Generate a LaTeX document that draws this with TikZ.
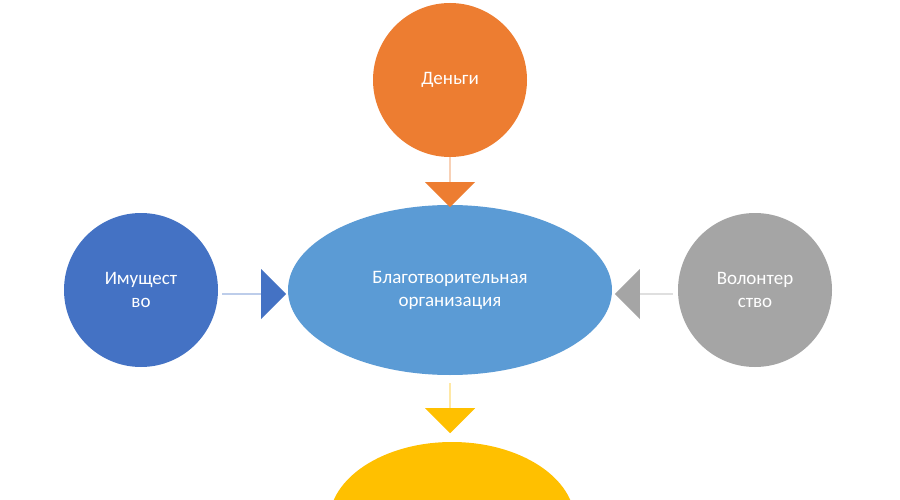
\documentclass[tikz,border=0pt]{standalone}
\usepackage{fontspec}
\setmainfont{Carlito}
\usetikzlibrary{positioning,shapes.arrows}
\definecolor{orng}{HTML}{ED7D31}
\definecolor{lblue}{HTML}{5B9BD5}
\definecolor{dblue}{HTML}{4472C4}
\definecolor{grey}{HTML}{A5A5A5}
\definecolor{yell}{HTML}{FFC000}
\begin{document}
\begin{tikzpicture}
    [x=1pt,y=-1pt,
        ball/.style={circle,draw=none,minimum size=154pt,text=white,
            font=\fontsize{19}{23}\selectfont,align=center},
        blob/.style={ellipse,minimum width=#1},
        blockarrow/.style={single arrow,draw=none,minimum height=50pt,
            minimum width=50pt,single arrow head extend=10pt,inner sep=0pt,
            single arrow tip angle=90}
    ]
\clip (0,0) rectangle (900,500);
\fill[white] (0,0) rectangle (900,500);
\usetikzlibrary{shapes.geometric}
\node[ball,fill=orng] (money) at (450,80) {Деньги};
\node[ball,fill=dblue] (prop) at (141,290) {Имущест\\во};
\node[ball,fill=grey] (vol) at (755,290) {Волонтер\\ство};
\node[ball,fill=lblue,ellipse,minimum width=324pt,minimum height=170pt] (org) at (450,290) {Благотворительная\\организация};
\node[ellipse,fill=yell,minimum width=246pt,minimum height=160pt] (res) at (452,522) {};
\node[blockarrow,fill=orng,rotate=-90] (a1) at (450,182) {};
\node[blockarrow,fill=dblue,minimum height=64pt] (a2) at (254,294) {};
\node[blockarrow,fill=grey,rotate=180,minimum height=58pt] (a3) at (644,294) {};
\node[blockarrow,fill=yell,rotate=-90] (a4) at (450,408) {};
\end{tikzpicture}
\end{document}
